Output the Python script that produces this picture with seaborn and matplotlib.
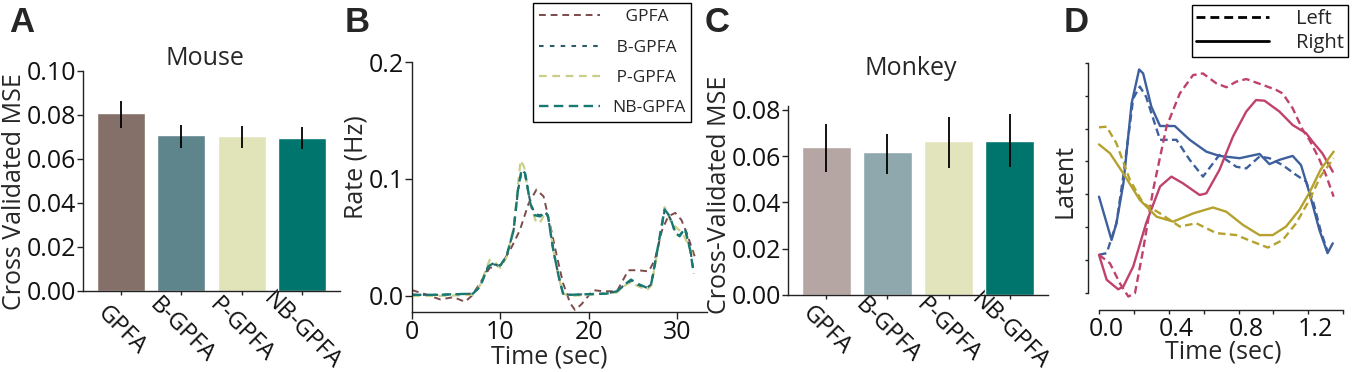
import numpy as np
import pandas as pd
import matplotlib
matplotlib.use("Agg")
import matplotlib.pyplot as plt
import seaborn as sns
from matplotlib.transforms import ScaledTranslation
from matplotlib.ticker import MultipleLocator
from matplotlib.lines import Line2D

# ---------------- data ----------------
methods = ["GPFA", "B-GPFA", "P-GPFA", "NB-GPFA"]

mouse_mse = [0.0808, 0.0709, 0.0706, 0.0697]
mouse_lo = [0.0740, 0.0649, 0.0649, 0.0647]
mouse_hi = [0.0864, 0.0755, 0.0750, 0.0745]

monkey_mse = [0.0641, 0.0616, 0.0665, 0.0665]
monkey_lo = [0.0530, 0.0521, 0.0547, 0.0552]
monkey_hi = [0.0737, 0.0694, 0.0770, 0.0781]

mouse_colors = ["#857069", "#5f858c", "#e0e4b8", "#00756e"]
monkey_colors = ["#b5a6a3", "#8ea8ad", "#e2e4bb", "#00756e"]

# Panel B: firing rate traces
t_gpfa = [0, 1.3, 3.2, 4.7, 6.0, 6.75, 7.7, 8.8, 10.0, 11.1, 12.2, 13.2, 14.1, 14.9,
          15.6, 16.4, 17.1, 17.9, 18.45, 19.2, 20.5, 21.7, 23.2, 24.5, 25.6, 26.8,
          27.5, 28.3, 29.0, 29.8, 30.5, 31.1, 32.0]
r_gpfa = [0.005, 0.002, -0.003, -0.001, -0.005, 0.000, 0.011, 0.024, 0.026, 0.039,
          0.056, 0.079, 0.091, 0.085, 0.062, 0.034, 0.011, -0.006, -0.012, -0.007,
          0.005, 0.004, 0.004, 0.022, 0.022, 0.021, 0.031, 0.056, 0.068, 0.071,
          0.065, 0.054, 0.034]

t_bgpfa = [0, 3, 6.9, 7.7, 8.6, 9.2, 10.0, 10.7, 11.5, 12.0, 12.4, 12.8, 13.4, 13.9,
           14.5, 15.1, 15.4, 16.0, 16.6, 17.1, 17.9, 19.8, 22.0, 23.2, 24.3, 24.8,
           25.4, 26.6, 27.1, 27.7, 28.6, 29.2, 29.8, 30.3, 30.9, 31.5, 31.9]
r_bgpfa = [0.001, 0.001, 0.002, 0.008, 0.024, 0.027, 0.026, 0.034, 0.056, 0.090,
           0.106, 0.104, 0.080, 0.070, 0.069, 0.072, 0.068, 0.039, 0.017, 0.002,
           0.001, 0.0015, 0.002, 0.004, 0.011, 0.013, 0.010, 0.007, 0.010, 0.035,
           0.073, 0.067, 0.055, 0.052, 0.057, 0.040, 0.020]

t_pgpfa = [0, 3, 6.9, 7.7, 8.8, 9.4, 10.0, 10.7, 11.5, 12.0, 12.3, 12.7, 13.4, 14.1,
           14.6, 15.1, 15.5, 16.0, 16.6, 17.1, 17.9, 19.8, 22.0, 23.2, 24.3, 24.8,
           25.4, 26.6, 27.1, 27.7, 28.6, 29.4, 30.3, 30.9, 31.5, 32.0]
r_pgpfa = [0.000, 0.000, 0.001, 0.009, 0.031, 0.029, 0.024, 0.033, 0.058, 0.095,
           0.116, 0.110, 0.078, 0.062, 0.064, 0.072, 0.066, 0.040, 0.016, 0.002,
           0.000, 0.001, 0.002, 0.003, 0.010, 0.012, 0.009, 0.005, 0.009, 0.034,
           0.076, 0.062, 0.056, 0.050, 0.040, 0.031]

t_nbgpfa = [0, 3, 6.9, 7.7, 8.6, 9.2, 10.0, 10.7, 11.5, 12.0, 12.4, 12.8, 13.4, 13.9,
            14.5, 15.1, 15.4, 16.0, 16.6, 17.1, 17.9, 19.8, 22.0, 23.2, 24.3, 24.8,
            25.4, 26.6, 27.1, 27.7, 28.6, 29.2, 29.8, 30.3, 30.9, 31.5, 31.9]
r_nbgpfa = [0.001, 0.001, 0.002, 0.008, 0.025, 0.028, 0.026, 0.034, 0.056, 0.091,
            0.108, 0.105, 0.079, 0.069, 0.068, 0.072, 0.068, 0.039, 0.017, 0.002,
            0.001, 0.0015, 0.002, 0.004, 0.011, 0.014, 0.011, 0.007, 0.011, 0.036,
            0.074, 0.068, 0.054, 0.051, 0.058, 0.039, 0.019]

rate_labels = ["   GPFA", " B-GPFA", " P-GPFA", "NB-GPFA"]
rate_colors = ["#7d4a4a", "#2e5d66", "#c9cf88", "#177a72"]
rate_styles = [(0, (3.5, 2.5)), (0, (2.2, 3.0)), (0, (3.5, 2.5)), (0, (4.0, 2.3))]
rate_widths = [1.4, 1.5, 1.6, 1.7]

# Panel D: latent trajectories (left = dashed, right = solid)
t_blue_r = [0, 0.072, 0.1, 0.14, 0.187, 0.23, 0.253, 0.30, 0.35, 0.434, 0.52, 0.615,
            0.69, 0.806, 0.92, 0.977, 1.034, 1.11, 1.158, 1.206, 1.263, 1.31, 1.34]
v_blue_r = [2.93, 1.61, 2.12, 3.34, 5.77, 6.80, 6.68, 5.67, 5.08, 5.08, 4.66, 4.30,
            4.17, 4.10, 4.23, 3.92, 4.05, 4.17, 3.89, 3.05, 1.92, 1.21, 1.51]
t_blue_l = [0, 0.044, 0.1, 0.139, 0.196, 0.234, 0.27, 0.35, 0.444, 0.52, 0.596, 0.69,
            0.787, 0.844, 0.92, 0.977, 1.053, 1.13, 1.187, 1.225, 1.27, 1.31]
v_blue_l = [1.16, 1.21, 2.12, 3.54, 5.92, 6.28, 5.97, 4.66, 4.66, 4.05, 3.54, 4.20,
            3.84, 3.79, 4.15, 4.10, 3.89, 3.59, 3.39, 2.83, 1.90, 1.26]
t_red_r = [0, 0.044, 0.11, 0.139, 0.196, 0.27, 0.35, 0.415, 0.48, 0.577, 0.615, 0.69,
           0.768, 0.844, 0.90, 0.949, 1.034, 1.11, 1.187, 1.225, 1.28, 1.34]
v_red_r = [1.16, 0.40, 0.11, 0.19, 0.80, 2.12, 3.24, 3.54, 3.34, 2.98, 3.03, 3.74,
           4.76, 5.52, 5.87, 5.85, 5.52, 5.11, 4.86, 4.60, 4.25, 3.69]
t_red_l = [0, 0.063, 0.12, 0.168, 0.206, 0.253, 0.31, 0.387, 0.463, 0.539, 0.596,
           0.672, 0.73, 0.787, 0.844, 0.939, 1.015, 1.053, 1.11, 1.168, 1.206, 1.26,
           1.30, 1.345]
v_red_l = [1.16, 0.90, 0.29, -0.11, -0.01, 1.31, 3.13, 5.06, 6.07, 6.63, 6.68, 6.38,
           6.26, 6.43, 6.51, 6.33, 6.18, 6.07, 5.62, 4.96, 4.66, 4.10, 3.60, 2.93]
t_gold_r = [0, 0.063, 0.139, 0.234, 0.33, 0.425, 0.54, 0.653, 0.73, 0.825, 0.92,
            0.996, 1.072, 1.149, 1.206, 1.27, 1.345]
v_gold_r = [4.52, 4.25, 3.64, 2.83, 2.32, 2.17, 2.42, 2.60, 2.47, 2.07, 1.76, 1.76,
            2.02, 2.53, 3.05, 3.75, 4.30]
t_gold_l = [0, 0.044, 0.1, 0.177, 0.253, 0.35, 0.463, 0.558, 0.672, 0.787, 0.88,
            0.968, 1.053, 1.13, 1.206, 1.27, 1.345]
v_gold_l = [5.04, 5.06, 4.55, 3.44, 2.73, 2.42, 2.02, 2.12, 1.82, 1.76, 1.56, 1.38,
            1.61, 2.12, 2.83, 3.55, 4.10]

latent_blue = "#3d5f9d"
latent_red = "#c0416b"
latent_gold = "#b5a22e"

# ---------------- style ----------------
sns.set_theme(style="ticks")
plt.rcParams["font.family"] = ["Open Sans", "DejaVu Sans"]
plt.rcParams["axes.edgecolor"] = "#222222"
plt.rcParams["axes.linewidth"] = 1.0
plt.rcParams["xtick.color"] = "#222222"
plt.rcParams["ytick.color"] = "#222222"
plt.rcParams["xtick.labelcolor"] = "#111111"
plt.rcParams["ytick.labelcolor"] = "#111111"

FS = 18
W, H = 1353, 372
fig = plt.figure(figsize=(W / 100, H / 100), dpi=100)


def ax_px(left, top, right, bottom):
    return fig.add_axes([left / W, 1 - bottom / H, (right - left) / W, (bottom - top) / H])


def bar_panel(ax, vals, lo, hi, colors, title, ylabel, ylim, yticks, ylab_frac,
              xpad, title_pad, title_x, ylabpad):
    df = pd.DataFrame({"method": methods, "mse": vals})
    sns.barplot(data=df, x="method", y="mse", hue="method", palette=colors,
                legend=False, ax=ax, width=0.8, errorbar=None, saturation=1)
    pos = np.arange(len(methods))
    ax.vlines(pos, lo, hi, color="black", lw=1.3, zorder=3)
    ax.set_ylim(*ylim)
    ax.set_xlim(-0.63, 3.63)
    ax.set_yticks(yticks)
    ax.set_yticklabels([f"{v:.2f}" for v in yticks])
    ax.set_xticks(pos)
    ax.set_xticklabels(methods, rotation=-45, ha="center", va="center")
    ax.tick_params(axis="y", length=4, width=1, pad=1, labelsize=FS)
    ax.tick_params(axis="x", length=3, width=1, pad=xpad, labelsize=17)
    ax.set_xlabel("")
    ax.set_ylabel(ylabel, fontsize=FS, labelpad=ylabpad)
    ax.yaxis.label.set_y(ylab_frac)
    ax.set_title(title, fontsize=FS, pad=title_pad)
    ax.title.set_x(title_x)
    sns.despine(ax=ax)


# ---- Panel A ----
axA = ax_px(83, 71, 340, 291)
bar_panel(axA, mouse_mse, mouse_lo, mouse_hi, mouse_colors, "Mouse",
          "Cross Validated MSE", (0, 0.1), [0, 0.02, 0.04, 0.06, 0.08, 0.10], 0.45,
          25.5, -3, 0.475, 0)

# ---- Panel B ----
axB = ax_px(412, 62, 707, 312)
series_t = [t_gpfa, t_bgpfa, t_pgpfa, t_nbgpfa]
series_r = [r_gpfa, r_bgpfa, r_pgpfa, r_nbgpfa]
order = [0, 2, 1, 3]
for i in order:
    sns.lineplot(x=series_t[i], y=series_r[i], ax=axB, color=rate_colors[i],
                 lw=rate_widths[i], linestyle=rate_styles[i], label=rate_labels[i])
axB.set_xlim(0, 33.4)
axB.set_ylim(-0.0137, 0.2)
axB.set_xticks([0, 10, 20, 30])
axB.set_yticks([0, 0.1, 0.2])
axB.set_yticklabels(["0.0", "0.1", "0.2"])
axB.tick_params(axis="both", length=5, width=1, pad=1, labelsize=FS)
axB.set_xlabel("Time (sec)", fontsize=FS)
axB.set_ylabel("Rate (Hz)", fontsize=FS, labelpad=0)
axB.yaxis.label.set_y(0.58)
axB.xaxis.set_label_coords(0.465, -0.128)
sns.despine(ax=axB)
handles, labels = axB.get_legend_handles_labels()
hmap = dict(zip(labels, handles))
legB = axB.legend([hmap[l] for l in rate_labels], rate_labels,
                  loc="upper left", bbox_to_anchor=(533 / W, 1 - 3 / H),
                  bbox_transform=fig.transFigure, borderaxespad=0,
                  fontsize=12.5, frameon=True, fancybox=False, edgecolor="black",
                  framealpha=1, handlelength=3.5, handletextpad=0.7,
                  labelspacing=0.82, borderpad=0.35)
legB.get_frame().set_linewidth(1.0)

# ---- Panel C ----
axC = ax_px(788, 106, 1048, 295)
bar_panel(axC, monkey_mse, monkey_lo, monkey_hi, monkey_colors, "Monkey",
          "Cross-Validated MSE", (0, 0.0816), [0, 0.02, 0.04, 0.06, 0.08], 0.53,
          22.5, 22, 0.471, 0)

# ---- Panel D ----
axD = ax_px(1088, 58, 1345, 310)
lat_t = [t_blue_r, t_blue_l, t_red_r, t_red_l, t_gold_r, t_gold_l]
lat_v = [v_blue_r, v_blue_l, v_red_r, v_red_l, v_gold_r, v_gold_l]
lat_c = [latent_blue, latent_blue, latent_red, latent_red, latent_gold, latent_gold]
lat_ls = ["-", (0, (3.2, 1.8)), "-", (0, (3.2, 1.8)), "-", (0, (3.2, 1.8))]
for tt, vv, cc, ls in zip(lat_t, lat_v, lat_c, lat_ls):
    sns.lineplot(x=tt, y=vv, ax=axD, color=cc, lw=1.7, linestyle=ls)
axD.set_xlim(-0.063, 1.41)
axD.set_ylim(-0.52, 7.15)
axD.set_yticks(range(8))
axD.set_yticklabels([])
axD.xaxis.set_minor_locator(MultipleLocator(0.2))
axD.set_xticks([0.0, 0.4, 0.8, 1.2])
axD.set_xticklabels(["0.0", "0.4", "0.8", "1.2"])
axD.tick_params(axis="x", which="both", length=3, width=1, pad=2, labelsize=FS)
axD.tick_params(axis="y", length=2.2, width=1)
sns.despine(ax=axD)
axD.spines["left"].set_bounds(0, 7)
axD.spines["bottom"].set_bounds(0, 1.4)
for lab in axD.get_xticklabels():
    lab.set_transform(lab.get_transform() + ScaledTranslation(7.5 / 100, 0, fig.dpi_scale_trans))
axD.set_ylabel("Latent", fontsize=FS, labelpad=2)
axD.yaxis.label.set_y(0.51)
axD.set_xlabel("Time (sec)", fontsize=FS)
axD.xaxis.set_label_coords(0.525, -0.118)
legD = axD.legend([Line2D([], [], color="black", lw=2, linestyle=(0, (3.2, 1.8))),
                   Line2D([], [], color="black", lw=2)],
                  ["Left", "Right"], loc="upper left",
                  bbox_to_anchor=(1192 / W, 1 - 5 / H), bbox_transform=fig.transFigure,
                  borderaxespad=0, fontsize=14.5, frameon=True, fancybox=False,
                  edgecolor="black", framealpha=1, handlelength=3.6,
                  handletextpad=1.35, labelspacing=0.22, borderpad=0.2)
legD.get_frame().set_linewidth(1.0)

# ---- panel letters ----
for letter, x in zip(["A", "B", "C", "D"], [9, 345, 705, 1064]):
    fig.text(x / W, 1 - 32 / H, letter, fontsize=25, fontweight="bold",
             family=["Liberation Sans", "DejaVu Sans"], va="baseline", ha="left")

fig.savefig("out.png", dpi=100)
